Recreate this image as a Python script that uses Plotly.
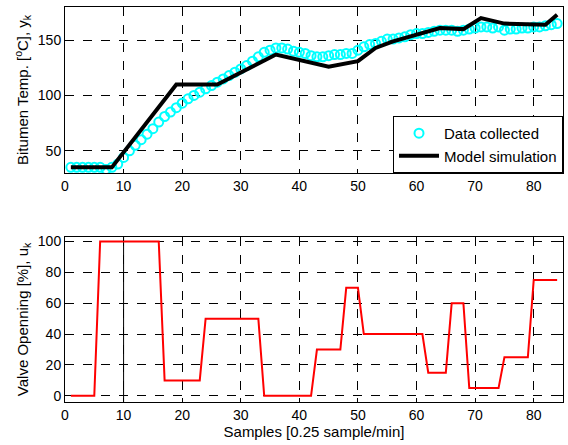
import plotly.graph_objects as go
from plotly.subplots import make_subplots

# samples 1..84
samples = list(range(1, 85))

temp_data = [35, 35, 35, 35, 35, 35, 33, 35, 38, 44,
             50, 55, 60, 65, 70, 76, 81, 85, 89, 93,
             97, 100, 103, 106, 109, 112, 115, 118, 121, 124,
             127, 131, 135, 139, 141, 143, 143, 142, 140, 139,
             138, 136, 135, 135, 136, 137, 137, 138, 138, 141,
             144, 146, 147, 149, 151, 151, 152, 153, 155, 156,
             156, 157, 158, 159, 159, 159, 158, 159, 160, 161,
             162, 162, 161, 162, 159, 160, 160, 161, 161, 162,
             162, 163, 164, 165]

# model simulation, corner points of the black line
model_x = [1, 8, 19, 26, 36, 45, 50, 53, 56, 64, 68, 71, 75, 79, 82, 84]
model_y = [35, 35, 110, 110, 137, 126, 131, 143, 149, 161, 160, 170, 165, 164, 164, 173]

# valve opening per sample
valve = [0, 0, 0, 0, 0, 100, 100, 100, 100, 100,
         100, 100, 100, 100, 100, 100, 10, 10, 10, 10,
         10, 10, 10, 50, 50, 50, 50, 50, 50, 50,
         50, 50, 50, 0, 0, 0, 0, 0, 0, 0,
         0, 0, 30, 30, 30, 30, 30, 70, 70, 70,
         40, 40, 40, 40, 40, 40, 40, 40, 40, 40,
         40, 15, 15, 15, 15, 60, 60, 60, 5, 5,
         5, 5, 5, 5, 25, 25, 25, 25, 25, 75,
         75, 75, 75, 75]

FONT = "Liberation Sans, Arial, sans-serif"
FS = 14   # tick labels
FT = 15   # axis titles / legend

fig = make_subplots(rows=2, cols=1, vertical_spacing=0.16)

fig.add_trace(go.Scatter(
    x=samples, y=temp_data, mode="markers", name="Data collected",
    marker=dict(symbol="circle-open", size=9, color="#00FFFF",
                line=dict(width=2, color="#00FFFF")),
), row=1, col=1)

fig.add_trace(go.Scatter(
    x=model_x, y=model_y, mode="lines", name="Model simulation",
    line=dict(color="black", width=4),
), row=1, col=1)

fig.add_trace(go.Scatter(
    x=samples, y=valve, mode="lines", showlegend=False,
    line=dict(color="#FF0000", width=2),
), row=2, col=1)

# the solid line at x=10 in the lower plot
fig.add_vline(x=10, line=dict(color="black", width=1), row=2, col=1, layer="below")

axis_style = dict(
    showline=True, linecolor="black", linewidth=1, mirror="ticks",
    ticks="inside", ticklen=4, tickcolor="black",
    showgrid=True, gridcolor="black", griddash="dash", gridwidth=1,
    zeroline=False, tickfont=dict(family=FONT, size=FS, color="black"),
)

fig.update_xaxes(**axis_style, range=[0, 85], tick0=0, dtick=10)
fig.update_xaxes(title=dict(text="Samples [0.25 sample/min]",
                            font=dict(family=FONT, size=FT, color="black"),
                            standoff=2), row=2, col=1)

fig.update_yaxes(**axis_style)
fig.update_yaxes(range=[30, 180], tickvals=[50, 100, 150],
                 title=dict(text="Bitumen Temp. [<sup>o</sup>C], y<sub>k</sub>",
                            font=dict(family=FONT, size=FT, color="black"),
                            standoff=5), row=1, col=1)
fig.update_yaxes(range=[-4, 103], tickvals=[0, 20, 40, 60, 80, 100],
                 title=dict(text="Valve Openning [%], u<sub>k</sub>",
                            font=dict(family=FONT, size=FT, color="black"),
                            standoff=5), row=2, col=1)

fig.update_layout(
    width=568, height=445,
    margin=dict(l=65, r=5, t=7, b=43),
    paper_bgcolor="white", plot_bgcolor="white",
    font=dict(family=FONT, size=FS, color="black"),
    legend=dict(x=1, y=0.58, xanchor="right", yanchor="bottom",
                bgcolor="white", bordercolor="black", borderwidth=1,
                font=dict(family=FONT, size=FT, color="black"),
                tracegroupgap=0, itemwidth=40),
)
fig.layout.yaxis.domain = [0.58, 1.0]
fig.layout.yaxis2.domain = [0.0, 0.418]

fig.write_html("out.html", config={"displayModeBar": False},
               post_script="document.body.style.margin='0';")
